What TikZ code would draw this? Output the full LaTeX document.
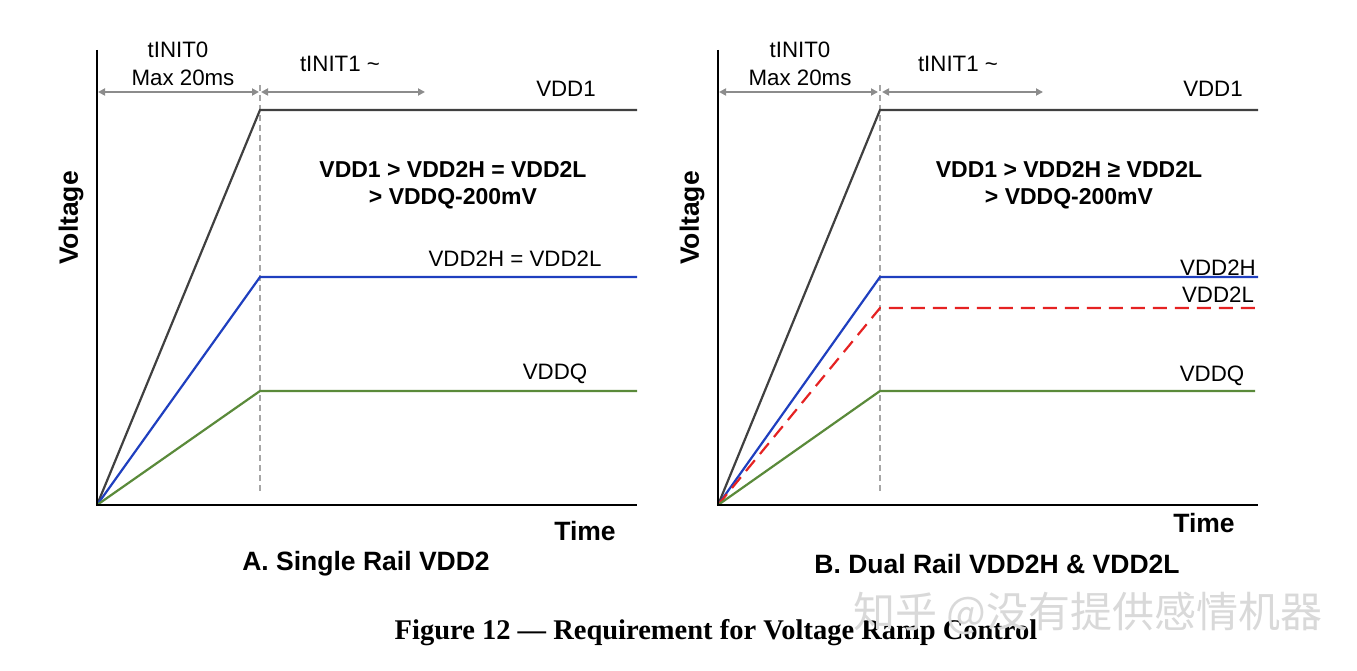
\documentclass[tikz,border=0pt]{standalone}
\usepackage{fontspec}
\setmainfont{Liberation Sans}
\newfontfamily\capfont{Liberation Serif}
\newfontfamily\cjk{Noto Sans CJK SC}
\usetikzlibrary{arrows.meta}
\definecolor{vddone}{HTML}{404040}
\definecolor{vddtwo}{HTML}{1F3FBF}
\definecolor{vddq}{HTML}{5A8A3A}
\definecolor{vddlow}{HTML}{E52222}
\tikzset{
  axis/.style={line width=2.4pt, black},
  rail/.style={line width=2.2pt},
  tmark/.style={line width=1.8pt, gray!90, {Triangle[length=7pt,width=7pt]}-{Triangle[length=7pt,width=7pt]}},
  split/.style={line width=1.2pt, gray!70, dash pattern=on 6pt off 4pt},
  lbl/.style={font=\fontsize{22.3}{26}\selectfont, inner sep=0pt},
  blbl/.style={font=\fontsize{23}{27}\selectfont\bfseries, inner sep=0pt, align=center},
  ttl/.style={font=\fontsize{26.5}{30}\selectfont\bfseries, inner sep=0pt}
}
\begin{document}
\begin{tikzpicture}[x=1pt, y=-1pt]
  \useasboundingbox (0,0) rectangle (1357,671);
  % panel A
  \draw[split] (260,85) -- (260,492);
  \draw[rail, vddone] (97,505) -- (260,110) -- (637,110);
  \draw[rail, vddtwo] (97,505) -- (260,277) -- (637,277);
  \draw[rail, vddq] (97,505) -- (260,391) -- (637,391);
  \draw[axis] (97,50) -- (97,505) -- (637,505);
  \draw[tmark] (98,92) -- (259,92);
  \draw[tmark] (261,92) -- (425,92);
  \draw (178,50) node[lbl] (a0) {tINIT0};
  \draw (183,78) node[lbl] (a0max) {Max 20ms};
  \draw (340,64) node[lbl] (a1) {tINIT1 \char`~};
  \draw (566,89) node[lbl] (avdd1) {VDD1};
  \draw (515,259) node[lbl] (avdd2) {VDD2H = VDD2L};
  \draw (555,374) node[lbl] (avddq) {VDDQ};
  \draw (453,185) node[blbl] (arule) {VDD1 > VDD2H = VDD2L\\> VDDQ-200mV};
  \draw (71,218) node[ttl, rotate=90] (avolt) {Voltage};
  \draw (585,531) node[ttl] (atime) {Time};
  \draw (366,564) node[ttl] (atitle) {A. Single Rail VDD2};
  % panel B
  \draw[split] (880,85) -- (880,492);
  \draw[rail, vddone] (718,505) -- (880,110) -- (1258,110);
  \draw[rail, vddtwo] (718,505) -- (880,277) -- (1258,277);
  \draw[rail, vddlow, dash pattern=on 14pt off 8pt] (718,505) -- (880,308) -- (1258,308);
  \draw[rail, vddq] (718,505) -- (880,391) -- (1255,391);
  \draw[axis] (718,50) -- (718,505) -- (1258,505);
  \draw[tmark] (719,92) -- (878,92);
  \draw[tmark] (882,92) -- (1043,92);
  \draw (800,50) node[lbl] (b0) {tINIT0};
  \draw (800,78) node[lbl] (b0max) {Max 20ms};
  \draw (958,64) node[lbl] (b1) {tINIT1 \char`~};
  \draw (1213,89) node[lbl] (bvdd1) {VDD1};
  \draw (1218,268) node[lbl] (bvdd2h) {VDD2H};
  \draw (1218,295) node[lbl] (bvdd2l) {VDD2L};
  \draw (1212,376) node[lbl] (bvddq) {VDDQ};
  \draw (1069,185) node[blbl] (brule) {VDD1 > VDD2H ≥ VDD2L\\> VDDQ-200mV};
  \draw (692,218) node[ttl, rotate=90] (bvolt) {Voltage};
  \draw (1204,523) node[ttl] (btime) {Time};
  \draw (997,564) node[ttl] (btitle) {B. Dual Rail VDD2H \& VDD2L};
  % caption and mark
  \draw (716,633) node[inner sep=0pt, font=\capfont\bfseries\fontsize{28.5}{32}\selectfont] (cap) {Figure 12 — Requirement for Voltage Ramp Control};
  \draw (1088,613) node[inner sep=0pt, text=gray!30, font=\cjk\fontsize{42}{46}\selectfont] (mark) {知乎 @没有提供感情机器};
\end{tikzpicture}
\end{document}
